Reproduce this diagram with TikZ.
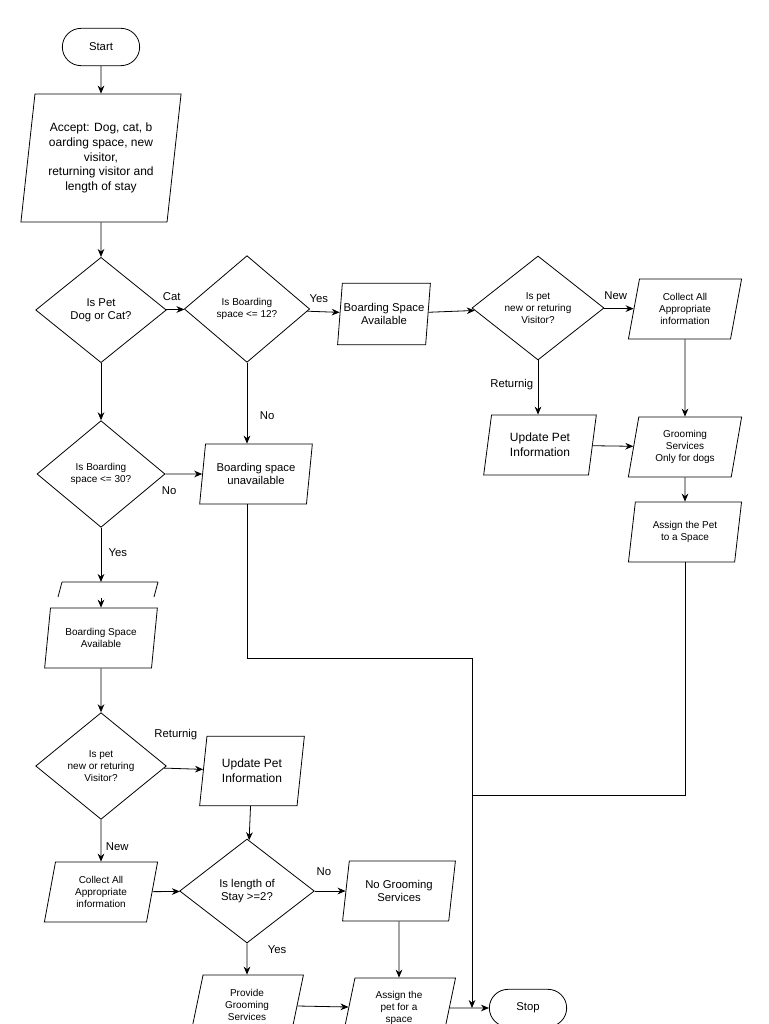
\documentclass[tikz,border=0pt]{standalone}
\usepackage{fontspec}
\setmainfont{Liberation Sans}
\usetikzlibrary{shapes.geometric,arrows.meta}
\begin{document}
\begin{tikzpicture}[x=0.75pt,y=-0.75pt,
  base/.style={draw,line width=0.6pt,align=center,inner sep=1pt,font=\fontsize{8.5pt}{10pt}\selectfont},
  term/.style={base,rounded corners=14pt,minimum width=58pt,minimum height=28pt},
  io/.style={base,trapezium,trapezium left angle=79,trapezium right angle=101,trapezium stretches=true,minimum width=85pt,minimum height=45pt},
  dec/.style={base,diamond,inner sep=0pt,minimum width=98pt,minimum height=79pt,font=\fontsize{7.5pt}{9pt}\selectfont},
  arr/.style={line width=0.6pt,-{Stealth[length=6pt,width=5pt]}},
  ln/.style={line width=0.6pt},
  lab/.style={font=\fontsize{8.5pt}{10pt}\selectfont}]
\useasboundingbox (0,0) rectangle (768,1024);
\node[term] (start) at (101,47) {Start};
\node[io,minimum width=121pt,minimum height=96pt,trapezium left angle=81,trapezium right angle=99,font=\fontsize{9pt}{11pt}\selectfont] (accept) at (101,158) {Accept: Dog, cat, b\\oarding space, new\\visitor,\\returning visitor and\\length of stay};
\node[dec,font=\fontsize{8.5pt}{10pt}\selectfont] (d1) at (101,310) {Is Pet\\Dog or Cat?};
\node[dec,minimum width=94pt,minimum height=80pt] (d2) at (247,309) {Is Boarding\\space <= 12?};
\node[io,minimum width=62pt,minimum height=46pt] (bsa1) at (384,314) {Boarding Space\\Available};
\node[dec,minimum width=99pt,minimum height=78pt] (d3) at (538,308) {Is pet\\new or returing\\Visitor?};
\node[io,font=\fontsize{7.5pt}{9pt}\selectfont] (col1) at (685,309) {Collect All\\Appropriate\\information};
\node[io,font=\fontsize{9pt}{11pt}\selectfont] (up1) at (540,445) {Update Pet\\Information};
\node[io,font=\fontsize{7.5pt}{9pt}\selectfont] (groom) at (685,447) {Grooming\\Services\\Only for dogs};
\node[io,font=\fontsize{7.5pt}{9pt}\selectfont] (as1) at (685,532) {Assign the Pet\\to a Space};
\node[dec,minimum width=96pt,minimum height=80pt] (d4) at (101,474) {Is Boarding\\space <= 30?};
\node[io] (unav) at (256,474) {Boarding space\\unavailable};
\draw[ln] (62,582) -- (158,582) (62,582) -- (58,597) (158,582) -- (154,597);
\coordinate (cutT) at (101,582);
\coordinate (cutB) at (101,598);
\node[io,font=\fontsize{7.5pt}{9pt}\selectfont] (bsa2) at (101,638) {Boarding Space\\Available};
\node[dec,minimum width=98pt,minimum height=80pt] (d5) at (101,766) {Is pet\\new or returing\\Visitor?};
\node[io,minimum width=79pt,minimum height=52pt,font=\fontsize{9pt}{11pt}\selectfont] (up2) at (252,771) {Update Pet\\Information};
\node[io,font=\fontsize{7.5pt}{9pt}\selectfont] (col2) at (101,892) {Collect All\\Appropriate\\information};
\node[dec,minimum width=101pt,minimum height=78pt,font=\fontsize{8.5pt}{10pt}\selectfont] (d6) at (247,891) {Is length of\\Stay >=2?};
\node[io] (nog) at (399,891) {No Grooming\\Services};
\node[io,font=\fontsize{7.5pt}{9pt}\selectfont] (prov) at (247,1005) {Provide\\Grooming\\Services};
\node[io,font=\fontsize{7.5pt}{9pt}\selectfont] (as2) at (399,1008) {Assign the\\pet for a\\space};
\node[term] (stop) at (528,1008) {Stop};
\coordinate (j1) at (472,658);
\coordinate (j2) at (472,1008);
\coordinate (j3) at (472,795);
\draw[arr] (start) -- (accept);
\draw[arr] (accept) -- (d1);
\draw[arr] (d1) -- node[lab,above,pos=0.3,yshift=3pt]{Cat} (d2);
\draw[arr] (d2) -- node[lab,above,pos=0.35,yshift=3pt]{Yes} (bsa1);
\draw[arr] (bsa1) -- (d3);
\draw[arr] (d3) -- node[lab,above,pos=0.4,yshift=3pt]{New} (col1);
\draw[arr] (d3) -- node[lab,left,pos=0.45]{Returnig} (d3 |- up1.north);
\draw[arr] (col1) -- (groom);
\draw[arr] (up1) -- (groom);
\draw[arr] (groom) -- (as1);
\draw[arr] (d2) -- node[lab,right,pos=0.65,xshift=6pt]{No} (d2 |- unav.north);
\draw[arr] (d1) -- (d4);
\draw[arr] (d4) -- node[lab,below,pos=0.1,yshift=-6pt]{No} (unav);
\draw[arr] (d4) -- node[lab,right,pos=0.45,xshift=2pt]{Yes} (cutT);
\draw[arr] (cutB) -- (bsa2);
\draw[arr] (bsa2) -- (d5);
\draw[arr] (d5) -- node[lab,above,pos=0.3,yshift=18pt]{Returnig} (up2);
\draw[arr] (d5) -- node[lab,right,pos=0.65]{New} (col2);
\draw[arr] (up2) -- (d6);
\draw[arr] (col2) -- (d6);
\draw[arr] (d6) -- node[lab,above,pos=0.3,yshift=8pt]{No} (nog);
\draw[arr] (d6) -- node[lab,right,pos=0.2,xshift=12pt]{Yes} (prov);
\draw[arr] (nog) -- (as2);
\draw[arr] (prov) -- (as2);
\draw[ln] (unav.south -| 247,0) |- (j1);
\draw[arr] (j1) -- (j2);
\draw[ln] (as1) |- (j3);
\draw[arr] (as2) -- (stop);
\end{tikzpicture}
\end{document}
